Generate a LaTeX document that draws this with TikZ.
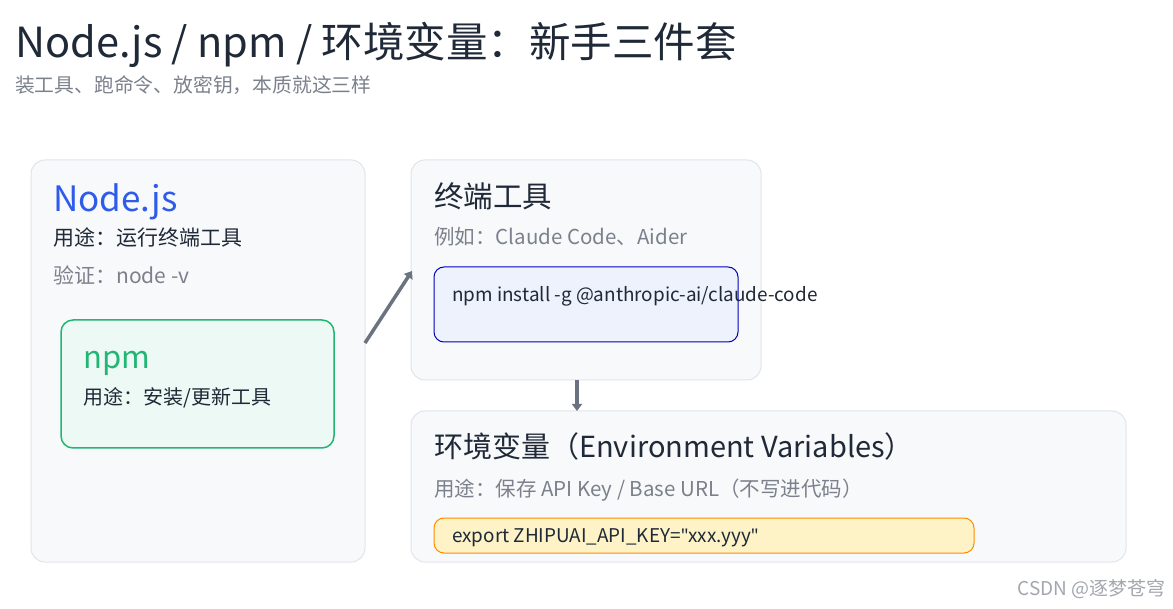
\documentclass[tikz,border=0pt]{standalone}
\usepackage{fontspec}
\setmainfont{Noto Sans CJK SC}
\newfontfamily\latinf{Noto Sans}
\usetikzlibrary{arrows.meta}
\definecolor{card}{HTML}{F8F9FB}
\definecolor{cardline}{HTML}{E1E4E9}
\definecolor{txt}{HTML}{1F2937}
\definecolor{muted}{HTML}{7B818C}
\definecolor{nodeblue}{HTML}{2F5BEA}
\definecolor{npmgreen}{HTML}{22B573}
\definecolor{arrowc}{HTML}{6B7280}
\definecolor{codeblue}{HTML}{EEF2FD}
\definecolor{codeyel}{HTML}{FEF3C7}
\tikzset{
  cardbox/.style={draw=cardline, fill=card, rounded corners=14pt, line width=1pt},
  lbl/.style={anchor=base west, inner sep=0pt, text=txt},
  arr/.style={draw=arrowc, line width=3.5pt, -{Triangle[length=7pt,width=10pt]}},
}
\newcommand{\fs}[1]{\fontsize{#1}{#1}\selectfont}
\newcommand{\dq}{{\latinf\symbol{34}}}
\begin{document}
\begin{tikzpicture}[x=1pt,y=-1pt]
\useasboundingbox[fill=white] (0,0) rectangle (1173,609);
\node[lbl] (title) at (15,58) {\fs{41.5}Node.js / npm / 环境变量：新手三件套};
\node[lbl,text=muted] (sub) at (15,93) {\fs{19.8}装工具、跑命令、放密钥，本质就这三样};
% left card
\draw[cardbox] (31,160) rectangle (365,562);
\coordinate (leftR) at (365,343);
\node[lbl,text=nodeblue] (nj) at (53,212) {\fs{35}Node.js};
\node[lbl] at (53,246) {\fs{21}用途：运行终端工具};
\node[lbl,text=muted] at (53,284) {\fs{21}验证：node -v};
\draw[draw=npmgreen, fill=npmgreen!8, rounded corners=12pt, line width=1.5pt] (61,320) rectangle (334,448);
\node[lbl,text=npmgreen] at (83,369) {\fs{31}npm};
\node[lbl] at (83,405) {\fs{20}用途：安装/更新工具};
% top right card
\draw[cardbox] (411,160) rectangle (761,380);
\coordinate (trL) at (412,271);
\coordinate (trB) at (577,380);
\node[lbl] at (434,208) {\fs{29.5}终端工具};
\node[lbl,text=muted] at (434,245) {\fs{20.5}例如：Claude Code、Aider};
\draw[draw=blue!75!black, fill=codeblue, rounded corners=10pt, line width=1pt] (434,267) rectangle (738,342);
\node[lbl] at (452,302) {\fs{18.9}npm install -g @anthropic-ai/claude-code};
% bottom card
\draw[cardbox] (411,411) rectangle (1126,562);
\coordinate (brT) at (577,411);
\node[lbl] at (434,457) {\fs{29}环境变量（Environment Variables）};
\node[lbl,text=muted] at (434,496) {\fs{20.5}用途：保存 API Key / Base URL（不写进代码）};
\draw[draw=orange!90!yellow, fill=codeyel, rounded corners=10pt, line width=1pt] (434,518) rectangle (974,553);
\node[lbl] at (452,542) {\fs{18.9}export ZHIPUAI\_API\_KEY=\dq xxx.yyy\dq};
% arrows
\draw[arr] (leftR) -- (trL);
\draw[arr] (trB) -- (brT);
\node[anchor=base east, inner sep=0pt, text=muted!70] at (1166,595) {\fs{19}CSDN @逐梦苍穹};
\end{tikzpicture}
\end{document}
